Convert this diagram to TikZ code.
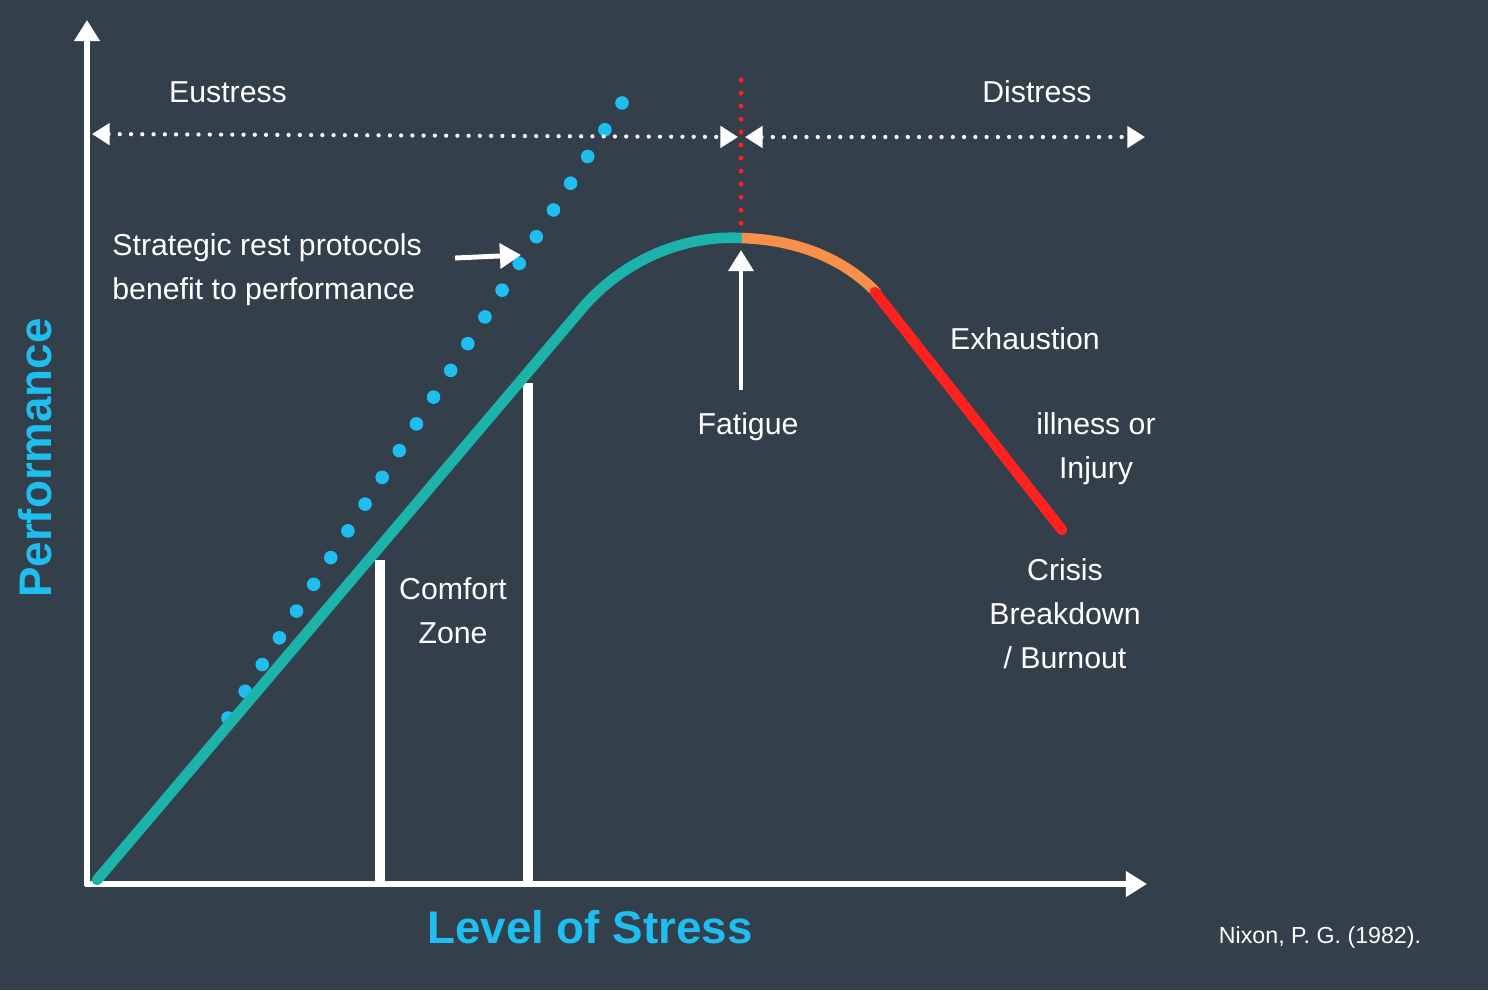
\documentclass[tikz,border=0pt]{standalone}
\usepackage{fontspec}
\setmainfont{Liberation Sans}
\usetikzlibrary{arrows.meta}
\definecolor{bg}{HTML}{333F4A}
\definecolor{teal}{HTML}{1BB3AA}
\definecolor{orng}{HTML}{F7904A}
\definecolor{redc}{HTML}{FF2020}
\definecolor{blu}{HTML}{1EBFF0}
\begin{document}
\begin{tikzpicture}[x=0.01cm,y=-0.01cm,
  lbl/.style={text=white,font=\fontsize{8.6}{12.5}\selectfont,align=center},
  axis/.style={white,line width=1.6pt,-{Triangle[length=6pt,width=7pt]}},
  dotarrow/.style={white,line width=1.2pt,dash pattern=on 0pt off 3.2pt,line cap=round,{Triangle[length=5pt,width=6pt]}-{Triangle[length=5pt,width=6pt]}}]
\fill[bg] (0,0) rectangle (1488,990);
\useasboundingbox (0,0) rectangle (1488,990);
% blue dots
\foreach \i in {0,...,23}{
  \pgfmathsetmacro\dx{228+\i*17.13}
  \pgfmathsetmacro\dy{718-\i*26.74}
  \fill[blu] (\dx,\dy) circle[radius=0.068cm];}
% axes
\coordinate (o) at (87,884);
\coordinate (ytop) at (87,20);
\coordinate (xend) at (1147,884);
\draw[axis] (87,886) -- (ytop);
\draw[axis] (85,884) -- (xend);
% comfort lines
\draw[white,line width=3pt] (380,560) -- (380,884);
\draw[white,line width=3pt] (528,383) -- (528,884);
% curve
\draw[teal,line width=3pt,line cap=round] (97,880) -- (585,305) .. controls (630,255) and (690,235) .. (742,238);
\draw[orng,line width=3pt] (742,238) .. controls (800,240) and (845,260) .. (877,293);
\draw[redc,line width=3pt,line cap=round] (875,292) -- (1062,530);
% dotted arrows
\draw[dotarrow] (92,134) -- (738,137);
\draw[dotarrow] (745,137) -- (1145,137);
\draw[redc,line width=1.4pt,dash pattern=on 0pt off 3.7pt,line cap=round] (741,80) -- (741,236);
% arrows
\node[lbl,anchor=north] (fat) at (748,400) {Fatigue};
\draw[white,line width=1.4pt,-{Triangle[length=6pt,width=7pt]}] (741,390) -- (741,250);
\node[lbl,anchor=west,align=left] (strat) at (100,270) {Strategic rest protocols\\benefit to performance};
\draw[white,line width=1.4pt,-{Triangle[length=6pt,width=7pt]}] (455,258) -- (521,255);
% labels
\node[lbl] (eu) at (228,92) {Eustress};
\node[lbl] (di) at (1037,92) {Distress};
\node[lbl] (cz) at (453,611) {Comfort\\Zone};
\node[lbl] (ex) at (1025,339) {Exhaustion};
\node[lbl] (ill) at (1096,449) {illness or\\Injury};
\node[lbl] (cr) at (1065,614) {Crisis\\Breakdown\\/ Burnout};
\node[text=blu,font=\fontsize{13}{15}\selectfont\bfseries] (xl) at (590,927) {Level of Stress};
\node[text=blu,font=\fontsize{13}{15}\selectfont\bfseries,rotate=90] (yl) at (35,458) {Performance};
\node[text=white,font=\fontsize{6.6}{8}\selectfont] (cite) at (1320,937) {Nixon, P. G. (1982).};
\end{tikzpicture}
\end{document}
